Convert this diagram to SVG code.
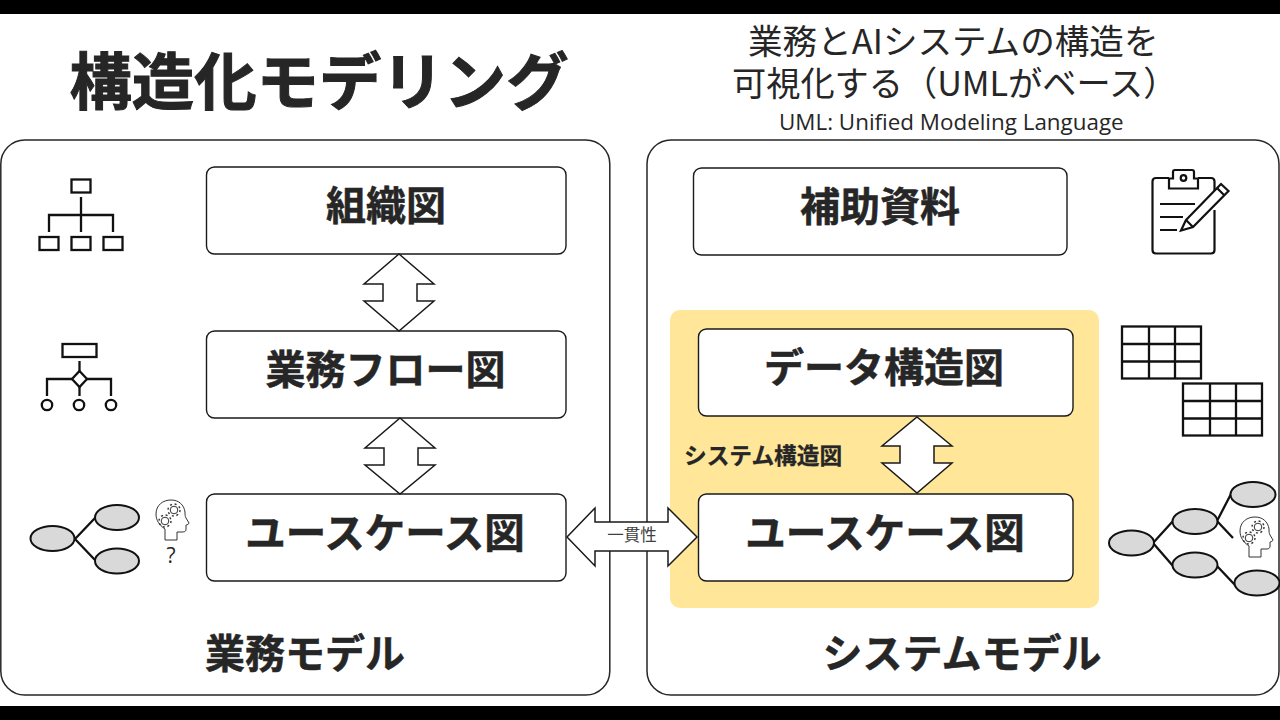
<svg xmlns="http://www.w3.org/2000/svg" width="1280" height="720" viewBox="0 0 1280 720">
<style>
.panel{fill:#fff;stroke:#262626;stroke-width:1.5}
.box{fill:#fff;stroke:#1a1a1a;stroke-width:1.4}
.arrow{fill:#fff;stroke:#1a1a1a;stroke-width:1.5;stroke-linejoin:miter}
.big{font-family:"Noto Sans CJK JP","Noto Sans",sans-serif;font-weight:700;font-size:40px;fill:#262626;stroke:#262626;stroke-width:.5;text-anchor:middle}
.reg{font-family:"Noto Sans CJK JP","Noto Sans",sans-serif;font-weight:400;font-size:34.600px;fill:#262626}
.ic{fill:none;stroke:#111;stroke-width:2.300}
.el{fill:#d9d9d9;stroke:#111;stroke-width:2}
.hd{fill:#fff;stroke:#333;stroke-width:1}
</style>
<defs>
<g id="head">
<path class="hd" d="M-7 20V9C-13 5-16 0-16-6C-16-15-9-20-1-20C7-20 12-15 13-8C13-5 13-4 14-2L17 3C17 4 15 5 14 5V9C14 12 12 12 9 12H5V20Z"/>
<circle class="hd" cx="2" cy="-10" r="3.8" stroke-width="1.6"/>
<circle cx="2" cy="-10" r="6" fill="none" stroke="#333" stroke-width="1.4" stroke-dasharray="2 2.7"/>
<circle class="hd" cx="-7" cy="1" r="3.8" stroke-width="1.6"/>
<circle cx="-7" cy="1" r="6" fill="none" stroke="#333" stroke-width="1.4" stroke-dasharray="2 2.7"/>
</g>
<g id="grid">
<rect class="ic" x="1" y="1" width="79" height="52"/>
<path class="ic" d="M1 18.500H80M1 36H80M28 1V53M54 1V53"/>
</g>
</defs>
<rect width="1280" height="720" fill="#fff"/>
<rect width="1280" height="14" fill="#000"/>
<rect y="706" width="1280" height="14" fill="#000"/>

<g id="title">
<text x="319" y="105" font-family="'Noto Sans CJK JP',sans-serif" font-weight="700" font-size="62.400" fill="#262626" stroke="#262626" stroke-width="1" text-anchor="middle">構造化モデリング</text>
<text class="reg" x="748" y="54">業務とAIシステムの構造を</text>
<text class="reg" x="732" y="96" style="font-size:34.200px">可視化する（UMLがベース）</text>
<text x="779" y="130" font-family="'Open Sans','Noto Sans',sans-serif" font-size="22.400" fill="#262626">UML: Unified Modeling Language</text>
</g>

<g id="panel-business"><rect class="panel" x="0.800" y="140" width="609" height="555" rx="24"/>
<text class="big" x="305" y="668">業務モデル</text></g>
<g id="panel-system"><rect class="panel" x="647" y="140" width="632" height="555" rx="24"/>
<text class="big" x="962" y="668">システムモデル</text></g>
<g id="group-structure"><rect x="670" y="310" width="429" height="298" rx="10" fill="#ffe699"/>
<text x="684" y="464" font-family="'Noto Sans CJK JP',sans-serif" font-weight="700" font-size="22.700" fill="#262626" stroke="#262626" stroke-width=".3">システム構造図</text></g>

<g id="node-org"><rect class="box" x="206.500" y="167" width="359.500" height="87" rx="8"/><text class="big" x="386" y="220">組織図</text></g>
<g id="node-flow"><rect class="box" x="206.500" y="331" width="359.500" height="87" rx="8"/><text class="big" x="385.500" y="384">業務フロー図</text></g>
<g id="node-usecase-b"><rect class="box" x="206.500" y="494" width="359.500" height="87" rx="8"/><text class="big" x="385" y="548" style="font-size:40.500px">ユースケース図</text></g>
<g id="node-aux"><rect class="box" x="693.500" y="168" width="373.500" height="87" rx="8"/><text class="big" x="880" y="221">補助資料</text></g>
<g id="node-data"><rect class="box" x="698.500" y="329" width="374.500" height="87" rx="8"/><text class="big" x="884" y="382">データ構造図</text></g>
<g id="node-usecase-s"><rect class="box" x="698.500" y="494" width="374.500" height="87" rx="8"/><text class="big" x="885" y="548" style="font-size:40.500px">ユースケース図</text></g>

<g id="connectors">
<path class="arrow" d="M399 254L434 284H417V301H434L399 331L364 301H383V284H364Z"/>
<path class="arrow" d="M400 418L435 448H418V465H435L400 494L365 465H384V448H365Z"/>
<path class="arrow" d="M917 417L952 446H934V463H952L917 493L882 463H900V446H882Z"/>
<path class="arrow" d="M567 537L595 508V522H668V508L697 537L668 566V551H595V566Z"/>
<text x="632" y="541" font-family="'Noto Sans CJK JP',sans-serif" font-size="16.500" fill="#404040" text-anchor="middle">一貫性</text>
</g>

<g id="icon-org">
<rect class="ic" x="71.500" y="179.500" width="19" height="13"/>
<path class="ic" d="M81 197V232M49 232V215H113V232"/>
<rect class="ic" x="39.500" y="237" width="19" height="13"/><rect class="ic" x="71.500" y="237" width="19" height="13"/><rect class="ic" x="103.500" y="237" width="19" height="13"/>
</g>
<g id="icon-flow">
<rect class="ic" x="62.500" y="344" width="34" height="13"/>
<path class="ic" d="M79.500 361V371M47 396V379H72M87 379H111V396M79.500 387V396"/>
<path class="ic" d="M79.500 371L87 379L79.500 387L72 379Z"/>
<circle class="ic" cx="47" cy="405" r="5.200"/><circle class="ic" cx="79" cy="405" r="5.200"/><circle class="ic" cx="111" cy="405" r="5.200"/>
</g>
<g id="icon-usecase-b">
<path class="ic" d="M75 539L95 518M75 539L95 560"/>
<ellipse class="el" cx="52.500" cy="538.500" rx="22" ry="12.500"/>
<ellipse class="el" cx="117" cy="517.500" rx="22" ry="12.500"/>
<ellipse class="el" cx="117" cy="561" rx="22" ry="12.500"/>
<use href="#head" x="172" y="520"/>
<text x="171" y="563" font-family="'Open Sans',sans-serif" font-size="21" fill="#262626" text-anchor="middle">?</text>
</g>
<g id="icon-clipboard" fill="none" stroke="#111" stroke-width="2.200">
<path d="M1169 178H1156Q1152.500 178 1152.500 181.500V250Q1152.500 253.500 1156 253.500H1211Q1214.500 253.500 1214.500 250V210M1214.500 191V181.500Q1214.500 178 1211 178H1198"/>
<path d="M1169 188.500H1198V178.500H1194V172Q1194 170 1192 170H1175Q1173 170 1173 172V178.500H1169Z" fill="#fff"/>
<circle cx="1183.500" cy="178" r="2.800"/>
<path d="M1160 204H1195M1160 217H1183M1160 230H1177"/>
<path d="M1186 220L1221 184L1228.500 191L1193 227L1181 230.500Z" fill="#fff"/>
<path d="M1186 220L1193 227M1217 188L1224 195"/>
</g>
<g id="icon-tables">
<use href="#grid" x="1121" y="325.500"/>
<use href="#grid" x="1182" y="382.500"/>
</g>
<g id="icon-usecase-s">
<path class="ic" d="M1153 543L1173 521M1153 543L1173 566M1217 521L1231 494M1217 521L1233 538M1217 566L1235 585"/>
<ellipse class="el" cx="1131.500" cy="543" rx="22.500" ry="12.500"/>
<ellipse class="el" cx="1195" cy="521.500" rx="22.500" ry="12.500"/>
<ellipse class="el" cx="1195" cy="565" rx="22.500" ry="12.500"/>
<ellipse class="el" cx="1253" cy="494.500" rx="22.500" ry="12.500"/>
<ellipse class="el" cx="1257" cy="583" rx="22.500" ry="12.500"/>
<use href="#head" x="1256" y="537"/>
</g>
</svg>
